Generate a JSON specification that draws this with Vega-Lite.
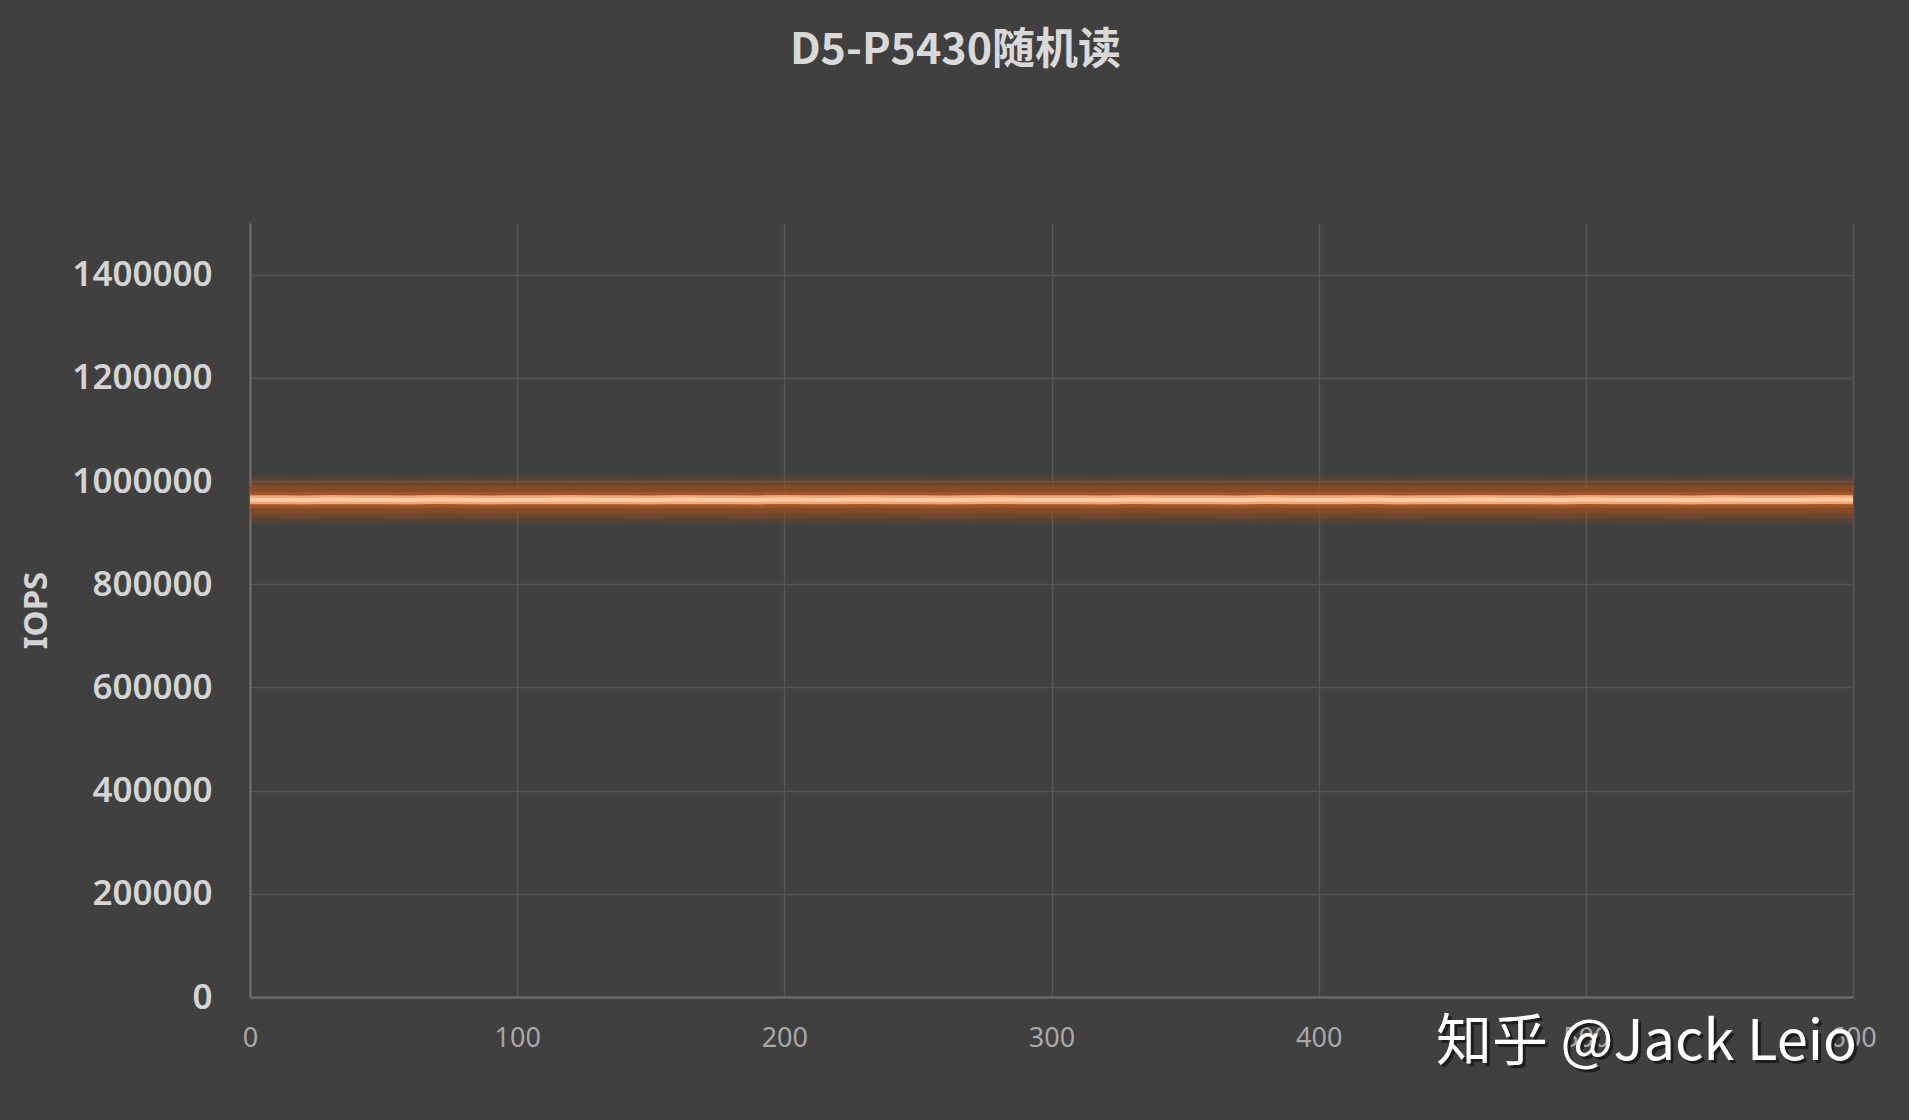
{
  "$schema": "https://vega.github.io/schema/vega-lite/v6.json",
  "width": 1603,
  "height": 774,
  "autosize": "none",
  "padding": {"left": 250, "top": 223, "right": 56, "bottom": 123},
  "background": "#404040",
  "title": {
    "text": "D5-P5430随机读",
    "font": "Noto Sans CJK SC",
    "fontSize": 43,
    "fontWeight": "bold",
    "color": "#d9d9d9",
    "anchor": "middle",
    "dx": -96,
    "offset": 150
  },
  "data": {
    "values": [
      {"t": 0, "iops": 963500}, {"t": 10, "iops": 963800}, {"t": 20, "iops": 963200}, {"t": 30, "iops": 964100},
      {"t": 40, "iops": 963600}, {"t": 50, "iops": 963900}, {"t": 60, "iops": 963300}, {"t": 70, "iops": 964000},
      {"t": 80, "iops": 963700}, {"t": 90, "iops": 963400}, {"t": 100, "iops": 963900}, {"t": 110, "iops": 963500},
      {"t": 120, "iops": 964200}, {"t": 130, "iops": 963600}, {"t": 140, "iops": 963800}, {"t": 150, "iops": 963300},
      {"t": 160, "iops": 964000}, {"t": 170, "iops": 963500}, {"t": 180, "iops": 963900}, {"t": 190, "iops": 963400},
      {"t": 200, "iops": 964100}, {"t": 210, "iops": 963700}, {"t": 220, "iops": 963500}, {"t": 230, "iops": 964000},
      {"t": 240, "iops": 963600}, {"t": 250, "iops": 963900}, {"t": 260, "iops": 963300}, {"t": 270, "iops": 963800},
      {"t": 280, "iops": 964200}, {"t": 290, "iops": 963500}, {"t": 300, "iops": 963900}, {"t": 310, "iops": 963600},
      {"t": 320, "iops": 963400}, {"t": 330, "iops": 964000}, {"t": 340, "iops": 963700}, {"t": 350, "iops": 963500},
      {"t": 360, "iops": 963900}, {"t": 370, "iops": 963300}, {"t": 380, "iops": 964100}, {"t": 390, "iops": 963600},
      {"t": 400, "iops": 963800}, {"t": 410, "iops": 963500}, {"t": 420, "iops": 964000}, {"t": 430, "iops": 963400},
      {"t": 440, "iops": 963900}, {"t": 450, "iops": 963600}, {"t": 460, "iops": 964200}, {"t": 470, "iops": 963500},
      {"t": 480, "iops": 963800}, {"t": 490, "iops": 963300}, {"t": 500, "iops": 964000}, {"t": 510, "iops": 963700},
      {"t": 520, "iops": 963500}, {"t": 530, "iops": 963900}, {"t": 540, "iops": 963400}, {"t": 550, "iops": 964100},
      {"t": 560, "iops": 963600}, {"t": 570, "iops": 963800}, {"t": 580, "iops": 963500}, {"t": 590, "iops": 964000},
      {"t": 600, "iops": 963700}
    ]
  },
  "encoding": {
    "x": {
      "field": "t", "type": "quantitative",
      "scale": {"domain": [0, 600], "nice": false},
      "axis": {
        "title": null, "values": [0, 100, 200, 300, 400, 500, 600], "labelFlush": false,
        "labelFont": "Noto Sans", "labelFontSize": 27, "labelColor": "#a8a8a8",
        "labelPadding": 28, "ticks": false, "domainColor": "#707070", "domainWidth": 2,
        "grid": true, "gridColor": "#565656", "gridWidth": 1.5
      }
    },
    "y": {
      "field": "iops", "type": "quantitative",
      "scale": {"domain": [0, 1500000], "nice": false},
      "axis": {
        "title": "IOPS", "values": [0, 200000, 400000, 600000, 800000, 1000000, 1200000, 1400000],
        "format": "d",
        "labelFont": "Noto Sans", "labelFontSize": 35, "labelFontWeight": 600, "labelColor": "#d4d4d4",
        "labelPadding": 38, "ticks": false, "domainColor": "#707070", "domainWidth": 2,
        "grid": true, "gridColor": "#565656", "gridWidth": 1.5,
        "titleFont": "Noto Sans", "titleFontSize": 33, "titleFontWeight": "bold", "titleColor": "#d4d4d4",
        "titleAngle": -90, "titleX": -214, "titleY": 387, "titleAlign": "center", "titleBaseline": "middle"
      }
    }
  },
  "layer": [
    {"mark": {"type": "line", "color": "#a4521e", "strokeWidth": 48, "opacity": 0.18}},
    {"mark": {"type": "line", "color": "#a4521e", "strokeWidth": 38, "opacity": 0.3}},
    {"mark": {"type": "line", "color": "#9a4c1f", "strokeWidth": 28, "opacity": 0.55}},
    {"mark": {"type": "line", "color": "#b85e26", "strokeWidth": 16, "opacity": 0.6}},
    {"mark": {"type": "line", "color": "#f0a878", "strokeWidth": 9}},
    {"mark": {"type": "line", "color": "#fbcba4", "strokeWidth": 4}},
    {
      "transform": [{"filter": "datum.t == 600"}],
      "mark": {"type": "text", "font": "Noto Sans CJK SC", "fontSize": 56, "color": "#1e1e1e", "align": "right", "baseline": "middle", "dx": 7, "dy": 3},
      "encoding": {"x": {"datum": 600}, "y": {"datum": -90000}, "text": {"value": "知乎  @Jack Leio"}}
    },
    {
      "transform": [{"filter": "datum.t == 600"}],
      "mark": {"type": "text", "font": "Noto Sans CJK SC", "fontSize": 56, "color": "#ffffff", "align": "right", "baseline": "middle", "dx": 4},
      "encoding": {"x": {"datum": 600}, "y": {"datum": -90000}, "text": {"value": "知乎  @Jack Leio"}}
    }
  ],
  "config": {"view": {"stroke": null}}
}
